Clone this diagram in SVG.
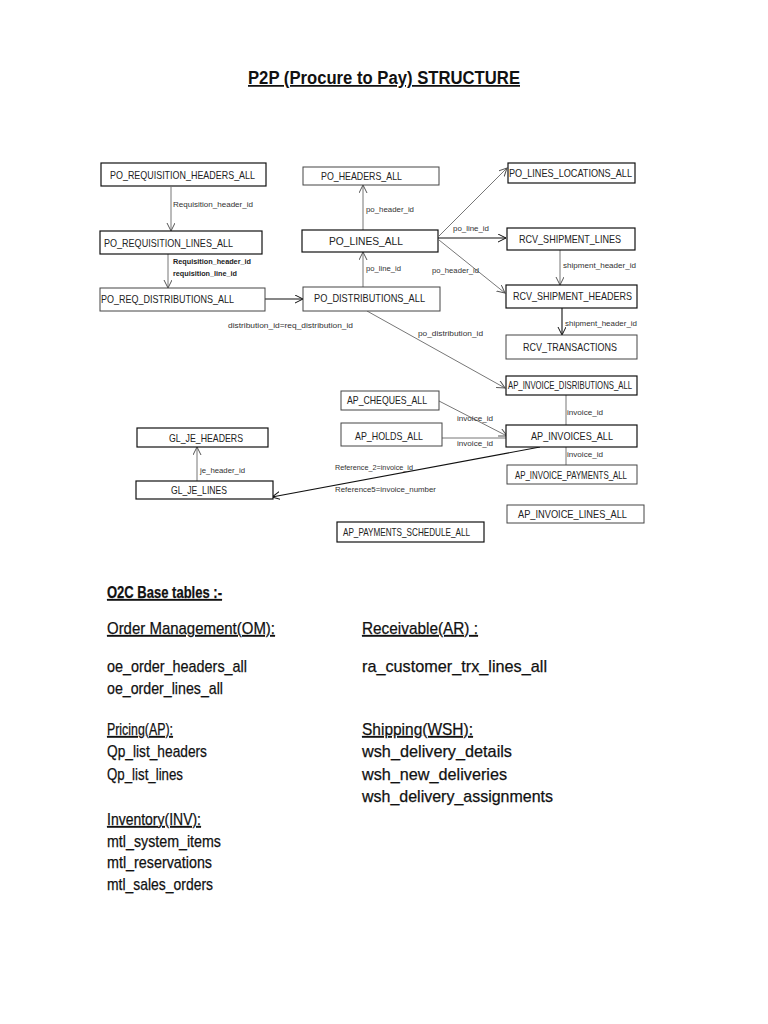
<svg xmlns="http://www.w3.org/2000/svg" width="768" height="1024" viewBox="0 0 768 1024">
<style>
.bx{fill:#fff;stroke:#444;stroke-width:1}
.bk{fill:#fff;stroke:#111;stroke-width:1.2}
.bl{font-family:"Liberation Sans",Arial,sans-serif;font-size:10.5px;fill:#222}
.sl{font-family:"Liberation Sans",Arial,sans-serif;font-size:7.5px;fill:#333}
.sb{font-family:"Liberation Sans",Arial,sans-serif;font-size:7.5px;fill:#222;font-weight:bold}
.ln{stroke:#777;stroke-width:1;fill:none}
.lk{stroke:#111;stroke-width:1.1;fill:none}
.tx{font-family:"Liberation Sans",Arial,sans-serif;font-size:17px;fill:#111;stroke:#111;stroke-width:0.25}
.hd{text-decoration:underline}
</style>
<defs>
<marker id="ah" markerWidth="10" markerHeight="10" refX="8" refY="4" orient="auto" markerUnits="userSpaceOnUse">
<path d="M0,0 L8,4 L0,8" fill="none" stroke="#555" stroke-width="1"/>
</marker>
<marker id="ahk" markerWidth="10" markerHeight="10" refX="8" refY="4" orient="auto" markerUnits="userSpaceOnUse">
<path d="M0,0 L8,4 L0,8" fill="none" stroke="#111" stroke-width="1"/>
</marker>
</defs>
<rect width="768" height="1024" fill="#fff"/>
<text x="248" y="84" font-family="'Liberation Sans',Arial,sans-serif" font-size="17.5" font-weight="bold" fill="#111" text-decoration="underline" textLength="272" lengthAdjust="spacingAndGlyphs">P2P (Procure to Pay) STRUCTURE</text>

<g id="connectors">
<line class="ln" x1="171" y1="187" x2="171" y2="231" marker-end="url(#ah)"/>
<line class="ln" x1="168" y1="254" x2="168" y2="288" marker-end="url(#ah)"/>
<line class="lk" x1="265" y1="299" x2="303" y2="299" marker-end="url(#ahk)"/>
<line class="ln" x1="363" y1="230" x2="363" y2="185" marker-end="url(#ah)"/>
<line class="ln" x1="363" y1="287" x2="363" y2="252" marker-end="url(#ah)"/>
<line class="ln" x1="439" y1="236" x2="507" y2="168" marker-end="url(#ah)"/>
<line class="lk" x1="438" y1="238" x2="506" y2="238" marker-end="url(#ahk)"/>
<line class="ln" x1="439" y1="240" x2="505" y2="293" marker-end="url(#ah)"/>
<line class="ln" x1="560" y1="250" x2="560" y2="285" marker-end="url(#ah)"/>
<line class="lk" x1="562" y1="308" x2="562" y2="335" marker-end="url(#ahk)"/>
<line class="ln" x1="367" y1="311" x2="505" y2="388" marker-end="url(#ah)"/>
<line class="ln" x1="566" y1="395" x2="566" y2="425"/>
<line class="ln" x1="439" y1="401" x2="507" y2="436" marker-end="url(#ah)"/>
<line class="ln" x1="442" y1="438" x2="506" y2="438"/>
<line class="lk" x1="540" y1="447" x2="272" y2="497" marker-end="url(#ahk)"/>
<line class="ln" x1="566" y1="447" x2="566" y2="465"/>
<line class="ln" x1="197" y1="481" x2="197" y2="447" marker-end="url(#ah)"/>
</g>

<g id="connector-labels">
<text class="sl" x="173" y="207" textLength="80" lengthAdjust="spacingAndGlyphs">Requisition_header_id</text>
<text class="sb" x="173" y="264" textLength="78" lengthAdjust="spacingAndGlyphs">Requisition_header_id</text>
<text class="sb" x="173" y="276" textLength="64" lengthAdjust="spacingAndGlyphs">requisition_line_id</text>
<text class="sl" x="228" y="328" textLength="125" lengthAdjust="spacingAndGlyphs">distribution_id=req_distribution_id</text>
<text class="sl" x="366" y="212" textLength="48" lengthAdjust="spacingAndGlyphs">po_header_id</text>
<text class="sl" x="366" y="271" textLength="35" lengthAdjust="spacingAndGlyphs">po_line_id</text>
<text class="sl" x="453" y="231" textLength="36" lengthAdjust="spacingAndGlyphs">po_line_id</text>
<text class="sl" x="432" y="273" textLength="47" lengthAdjust="spacingAndGlyphs">po_header_id</text>
<text class="sl" x="418" y="336" textLength="65" lengthAdjust="spacingAndGlyphs">po_distribution_id</text>
<text class="sl" x="563" y="268" textLength="73" lengthAdjust="spacingAndGlyphs">shipment_header_id</text>
<text class="sl" x="565" y="326" textLength="72" lengthAdjust="spacingAndGlyphs">shipment_header_id</text>
<text class="sl" x="567" y="415" textLength="36" lengthAdjust="spacingAndGlyphs">invoice_id</text>
<text class="sl" x="457" y="421" textLength="36" lengthAdjust="spacingAndGlyphs">invoice_id</text>
<text class="sl" x="457" y="446" textLength="36" lengthAdjust="spacingAndGlyphs">invoice_id</text>
<text class="sl" x="567" y="457" textLength="36" lengthAdjust="spacingAndGlyphs">invoice_id</text>
<text class="sl" x="200" y="473" textLength="45" lengthAdjust="spacingAndGlyphs">je_header_id</text>
<text class="sl" x="335" y="470" textLength="78" lengthAdjust="spacingAndGlyphs">Reference_2=invoice_id</text>
<text class="sl" x="335" y="492" textLength="101" lengthAdjust="spacingAndGlyphs">Reference5=invoice_number</text>
</g>

<g id="po_requisition_headers_all"><rect class="bk" x="101" y="163" width="165" height="23"/><text class="bl" x="110" y="178.5" textLength="145" lengthAdjust="spacingAndGlyphs">PO_REQUISITION_HEADERS_ALL</text></g>
<g id="po_requisition_lines_all"><rect class="bk" x="100" y="231" width="162" height="23"/><text class="bl" x="104" y="246.5" textLength="129" lengthAdjust="spacingAndGlyphs">PO_REQUISITION_LINES_ALL</text></g>
<g id="po_req_distributions_all"><rect class="bx" x="100" y="288" width="165" height="23"/><text class="bl" x="101" y="303" textLength="133" lengthAdjust="spacingAndGlyphs">PO_REQ_DISTRIBUTIONS_ALL</text></g>
<g id="po_headers_all"><rect class="bx" x="303" y="167" width="136" height="18"/><text class="bl" x="321" y="180" textLength="81" lengthAdjust="spacingAndGlyphs">PO_HEADERS_ALL</text></g>
<g id="po_lines_all"><rect class="bk" x="302" y="230" width="136" height="22"/><text class="bl" x="329" y="244.5" textLength="74" lengthAdjust="spacingAndGlyphs">PO_LINES_ALL</text></g>
<g id="po_distributions_all"><rect class="bx" x="303" y="287" width="137" height="24"/><text class="bl" x="314" y="302" textLength="111" lengthAdjust="spacingAndGlyphs">PO_DISTRIBUTIONS_ALL</text></g>
<g id="po_lines_locations_all"><rect class="bk" x="508" y="163" width="127" height="20"/><text class="bl" x="509" y="177" textLength="123" lengthAdjust="spacingAndGlyphs">PO_LINES_LOCATIONS_ALL</text></g>
<g id="rcv_shipment_lines"><rect class="bk" x="507" y="228" width="128" height="22"/><text class="bl" x="519" y="242.5" textLength="102" lengthAdjust="spacingAndGlyphs">RCV_SHIPMENT_LINES</text></g>
<g id="rcv_shipment_headers"><rect class="bk" x="506" y="285" width="131" height="23"/><text class="bl" x="513" y="300" textLength="119" lengthAdjust="spacingAndGlyphs">RCV_SHIPMENT_HEADERS</text></g>
<g id="rcv_transactions"><rect class="bx" x="506" y="335" width="131" height="24"/><text class="bl" x="523" y="351" textLength="94" lengthAdjust="spacingAndGlyphs">RCV_TRANSACTIONS</text></g>
<g id="ap_invoice_disributions_all"><rect class="bk" x="506" y="376" width="131" height="19"/><text class="bl" x="508" y="389" textLength="124" lengthAdjust="spacingAndGlyphs">AP_INVOICE_DISRIBUTIONS_ALL</text></g>
<g id="ap_cheques_all"><rect class="bx" x="341" y="391" width="98" height="19"/><text class="bl" x="347" y="404" textLength="80" lengthAdjust="spacingAndGlyphs">AP_CHEQUES_ALL</text></g>
<g id="ap_holds_all"><rect class="bx" x="341" y="423" width="101" height="23"/><text class="bl" x="355" y="439.5" textLength="68" lengthAdjust="spacingAndGlyphs">AP_HOLDS_ALL</text></g>
<g id="ap_invoices_all"><rect class="bk" x="506" y="425" width="131" height="22"/><text class="bl" x="531" y="439.5" textLength="82" lengthAdjust="spacingAndGlyphs">AP_INVOICES_ALL</text></g>
<g id="ap_invoice_payments_all"><rect class="bx" x="507" y="465" width="130" height="19"/><text class="bl" x="515" y="478.5" textLength="112" lengthAdjust="spacingAndGlyphs">AP_INVOICE_PAYMENTS_ALL</text></g>
<g id="ap_invoice_lines_all"><rect class="bx" x="507" y="505" width="137" height="18"/><text class="bl" x="518" y="518" textLength="109" lengthAdjust="spacingAndGlyphs">AP_INVOICE_LINES_ALL</text></g>
<g id="gl_je_headers"><rect class="bk" x="137" y="428" width="131" height="19"/><text class="bl" x="169" y="441.5" textLength="74" lengthAdjust="spacingAndGlyphs">GL_JE_HEADERS</text></g>
<g id="gl_je_lines"><rect class="bk" x="136" y="481" width="137" height="18"/><text class="bl" x="171" y="493.5" textLength="56" lengthAdjust="spacingAndGlyphs">GL_JE_LINES</text></g>
<g id="ap_payments_schedule_all"><rect class="bk" x="337" y="522" width="147" height="20"/><text class="bl" x="343" y="535.5" textLength="127" lengthAdjust="spacingAndGlyphs">AP_PAYMENTS_SCHEDULE_ALL</text></g>

<g id="o2c-text">
<text class="tx hd" x="107" y="598" font-weight="bold" textLength="115" lengthAdjust="spacingAndGlyphs">O2C Base tables :-</text>
<text class="tx hd" x="107" y="634" textLength="168" lengthAdjust="spacingAndGlyphs">Order Management(OM):</text>
<text class="tx hd" x="362" y="634" textLength="116" lengthAdjust="spacingAndGlyphs">Receivable(AR) :</text>
<text class="tx" x="107" y="672" textLength="140" lengthAdjust="spacingAndGlyphs">oe_order_headers_all</text>
<text class="tx" x="362" y="672" textLength="185" lengthAdjust="spacingAndGlyphs">ra_customer_trx_lines_all</text>
<text class="tx" x="107" y="694" textLength="116" lengthAdjust="spacingAndGlyphs">oe_order_lines_all</text>
<text class="tx hd" x="107" y="735" textLength="66" lengthAdjust="spacingAndGlyphs">Pricing(AP):</text>
<text class="tx hd" x="362" y="735" textLength="111" lengthAdjust="spacingAndGlyphs">Shipping(WSH):</text>
<text class="tx" x="107" y="757" textLength="100" lengthAdjust="spacingAndGlyphs">Qp_list_headers</text>
<text class="tx" x="362" y="757" textLength="150" lengthAdjust="spacingAndGlyphs">wsh_delivery_details</text>
<text class="tx" x="107" y="780" textLength="76" lengthAdjust="spacingAndGlyphs">Qp_list_lines</text>
<text class="tx" x="362" y="780" textLength="145" lengthAdjust="spacingAndGlyphs">wsh_new_deliveries</text>
<text class="tx" x="362" y="802" textLength="191" lengthAdjust="spacingAndGlyphs">wsh_delivery_assignments</text>
<text class="tx hd" x="107" y="825" textLength="94" lengthAdjust="spacingAndGlyphs">Inventory(INV):</text>
<text class="tx" x="107" y="847" textLength="114" lengthAdjust="spacingAndGlyphs">mtl_system_items</text>
<text class="tx" x="107" y="868" textLength="105" lengthAdjust="spacingAndGlyphs">mtl_reservations</text>
<text class="tx" x="107" y="890" textLength="106" lengthAdjust="spacingAndGlyphs">mtl_sales_orders</text>
</g>
</svg>
